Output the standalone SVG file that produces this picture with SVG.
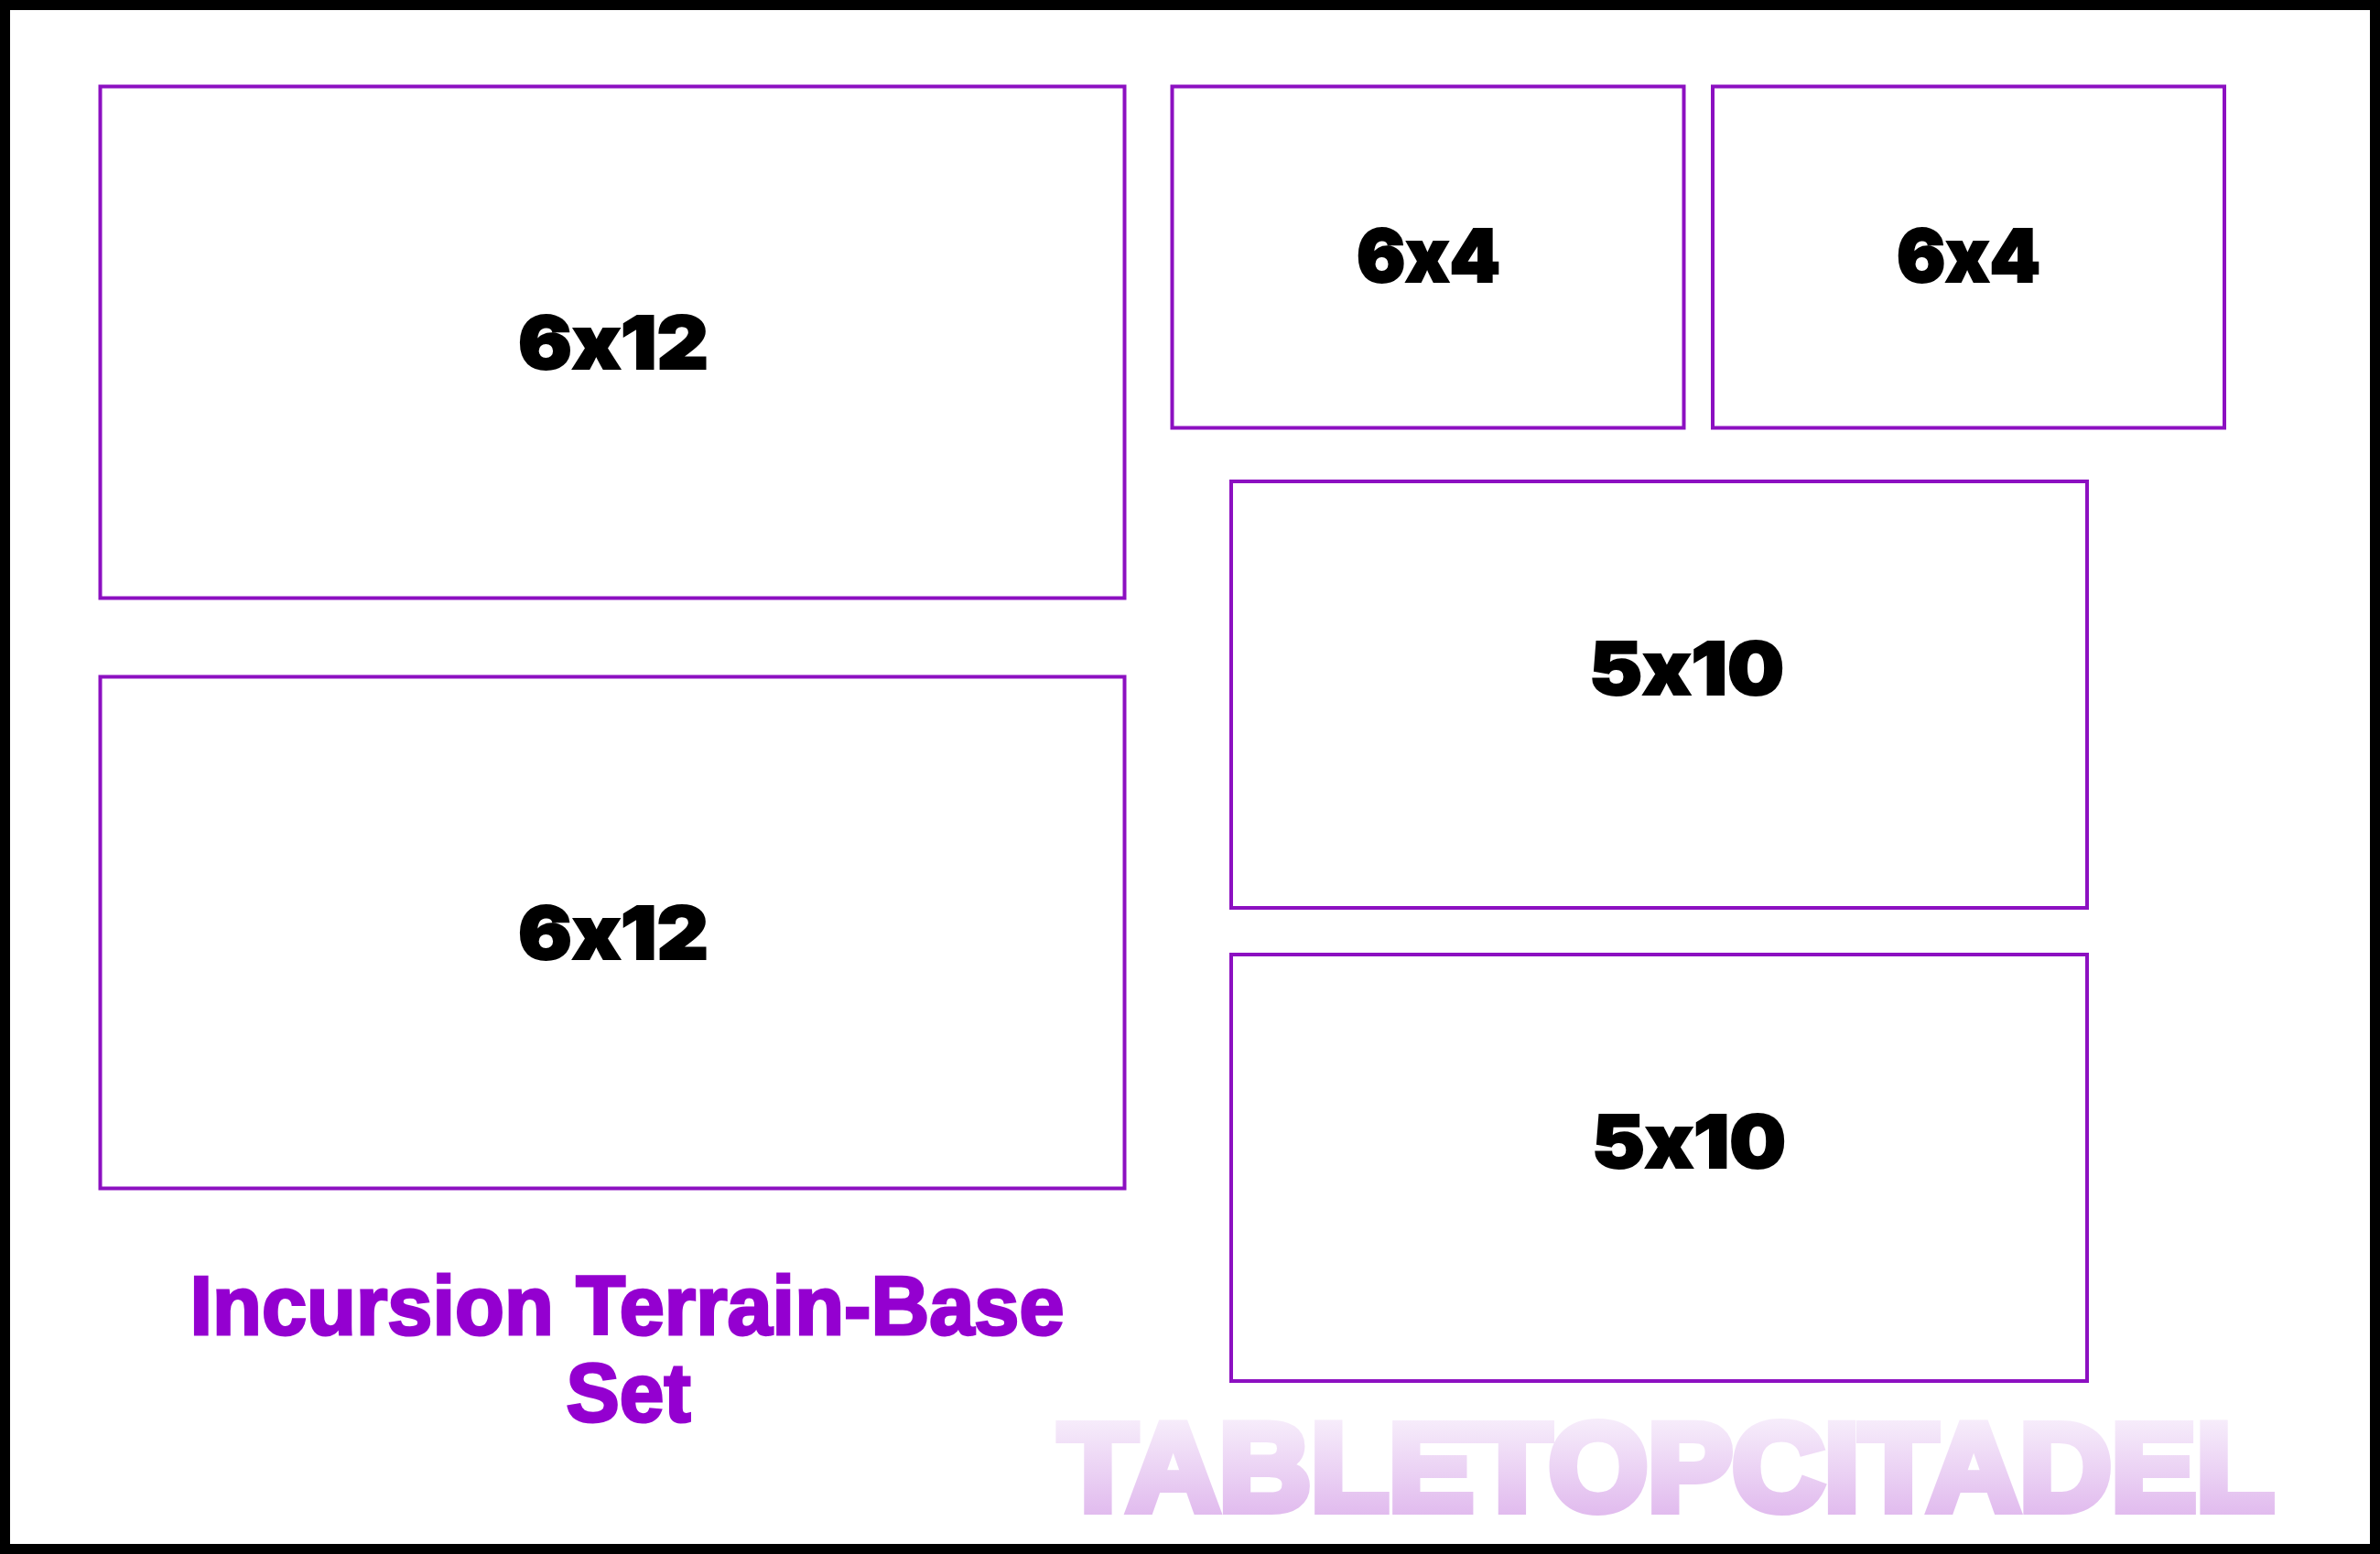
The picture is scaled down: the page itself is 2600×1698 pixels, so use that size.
<svg xmlns="http://www.w3.org/2000/svg" width="2600" height="1698" viewBox="0 0 2600 1698">
<style>
.box{fill:#ffffff;stroke:#8c10c1;stroke-width:4}
.lbl{font-family:Inter,"DejaVu Sans",sans-serif;font-weight:900;font-size:80px;fill:#000000;stroke:#000000;stroke-width:2;font-feature-settings:"calt" 0;font-variant-ligatures:none}
.title{font-family:"Liberation Sans",Arial,sans-serif;font-weight:bold;font-size:90px;fill:#9400d0;stroke:#9400d0;stroke-width:3}
.wm{font-family:"Liberation Sans",Arial,sans-serif;font-weight:bold;font-size:136px;fill:url(#wmgrad);stroke:url(#wmgrad);stroke-width:10;stroke-linejoin:miter}
</style>
<defs>
<linearGradient id="wmgrad" gradientUnits="userSpaceOnUse" x1="0" y1="1548" x2="0" y2="1655">
<stop offset="0" stop-color="#f7eefb"/>
<stop offset="1" stop-color="#e1bbee"/>
</linearGradient>
</defs>
<rect x="0" y="0" width="2600" height="1698" fill="#ffffff"/>
<rect x="0" y="0" width="2600" height="1698" fill="none" stroke="#000000" stroke-width="22"/>
<g id="connectors"/>
<g id="node-6x12-a">
<rect class="box" x="109.5" y="94.5" width="1119" height="559"/>
<text class="lbl" x="566" y="403" textLength="208" lengthAdjust="spacingAndGlyphs">6x12</text>
</g>
<g id="node-6x12-b">
<rect class="box" x="109.5" y="739.5" width="1119" height="559"/>
<text class="lbl" x="566" y="1048" textLength="208" lengthAdjust="spacingAndGlyphs">6x12</text>
</g>
<g id="node-6x4-a">
<rect class="box" x="1280.5" y="94.5" width="559" height="373"/>
<text class="lbl" x="1482" y="308" textLength="157" lengthAdjust="spacingAndGlyphs">6x4</text>
</g>
<g id="node-6x4-b">
<rect class="box" x="1871" y="94.5" width="559" height="373"/>
<text class="lbl" x="2072" y="308" textLength="157" lengthAdjust="spacingAndGlyphs">6x4</text>
</g>
<g id="node-5x10-a">
<rect class="box" x="1345" y="526" width="935" height="466"/>
<text class="lbl" x="1736" y="759" textLength="213" lengthAdjust="spacingAndGlyphs">5x10</text>
</g>
<g id="node-5x10-b">
<rect class="box" x="1345" y="1043" width="935" height="466"/>
<text class="lbl" x="1739" y="1276" textLength="212" lengthAdjust="spacingAndGlyphs">5x10</text>
</g>
<g id="title">
<text class="title" x="207.5" y="1457.5" textLength="955" lengthAdjust="spacingAndGlyphs">Incursion Terrain-Base</text>
<text class="title" x="618.5" y="1552.5" textLength="136" lengthAdjust="spacingAndGlyphs">Set</text>
</g>
<g id="watermark">
<text class="wm" x="1157" y="1650" textLength="1327" lengthAdjust="spacingAndGlyphs">TABLETOPCITADEL</text>
</g>
</svg>
